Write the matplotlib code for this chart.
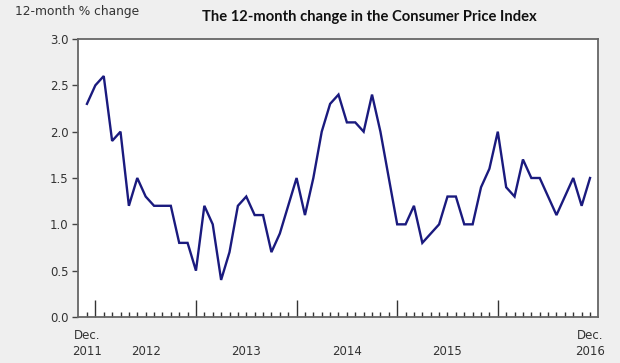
import matplotlib as mpl
mpl.use('Agg')
import matplotlib.pyplot as plt
import matplotlib.transforms as mtransforms

# 12-month % change in CPI, Dec 2011 to Dec 2016 (monthly)
cpi_change = [2.3, 2.5, 2.6, 1.9, 2.0, 1.2, 1.5, 1.3, 1.2, 1.2, 1.2, 0.8,
              0.8, 0.5, 1.2, 1.0, 0.4, 0.7, 1.2, 1.3, 1.1, 1.1, 0.7, 0.9,
              1.2, 1.5, 1.1, 1.5, 2.0, 2.3, 2.4, 2.1, 2.1, 2.0, 2.4, 2.0,
              1.5, 1.0, 1.0, 1.2, 0.8, 0.9, 1.0, 1.3, 1.3, 1.0, 1.0, 1.4,
              1.6, 2.0, 1.4, 1.3, 1.7, 1.5, 1.5, 1.3, 1.1, 1.3, 1.5, 1.2,
              1.5]
months = list(range(len(cpi_change)))
january_idx = [1, 13, 25, 37, 49]
year_labels = ['2012', '2013', '2014', '2015']
year_label_idx = [7, 19, 31, 43]
y_ticks = [0.0, 0.5, 1.0, 1.5, 2.0, 2.5, 3.0]

bg = '#efefef'
fig = plt.figure(figsize=(6.2, 3.63), dpi=100, facecolor=bg)
ax = fig.add_axes([0.1258, 0.1267, 0.8387, 0.7659])
ax.set_facecolor('white')

ax.plot(months, cpi_change, color='#1a1a7e', linewidth=1.7, solid_joinstyle='miter')

ax.set_xlim(-1.07, 60.95)
ax.set_ylim(0, 3.0)

for s in ax.spines.values():
    s.set_color('#666666')
    s.set_linewidth(1.3)

ax.set_yticks(y_ticks)
ax.set_yticklabels([f'{v:.1f}' for v in y_ticks])
ax.tick_params(axis='y', direction='out', length=4, width=1, color='#444444',
               labelsize=8.5, labelcolor='#333333', pad=3)

ax.set_xticks(january_idx)
ax.set_xticklabels([])
ax.set_xticks(months, minor=True)
ax.tick_params(axis='x', which='major', direction='in', length=12, width=1, color='#333333')
ax.tick_params(axis='x', which='minor', direction='in', length=3.5, width=1, color='#333333')

trans = mtransforms.blended_transform_factory(ax.transData, ax.transAxes)
lab = dict(transform=trans, ha='center', va='center', fontsize=8.5, color='#333333')
ax.text(0, -0.065, 'Dec.', **lab)
ax.text(0, -0.124, '2011', **lab)
ax.text(60, -0.065, 'Dec.', **lab)
ax.text(60, -0.124, '2016', **lab)
for i, y in zip(year_label_idx, year_labels):
    ax.text(i, -0.124, y, **lab)

fig.text(15 / 620, 1 - 12 / 363, '12-month % change', ha='left', va='center',
         fontsize=8.8, color='#333333')
fig.text(202 / 620, 1 - 17 / 363, 'The 12-month change in the Consumer Price Index',
         ha='left', va='center', fontsize=10.6, fontweight='bold', family='Lato', color='#111111')

fig.savefig('out.png', dpi=100, facecolor=bg)
